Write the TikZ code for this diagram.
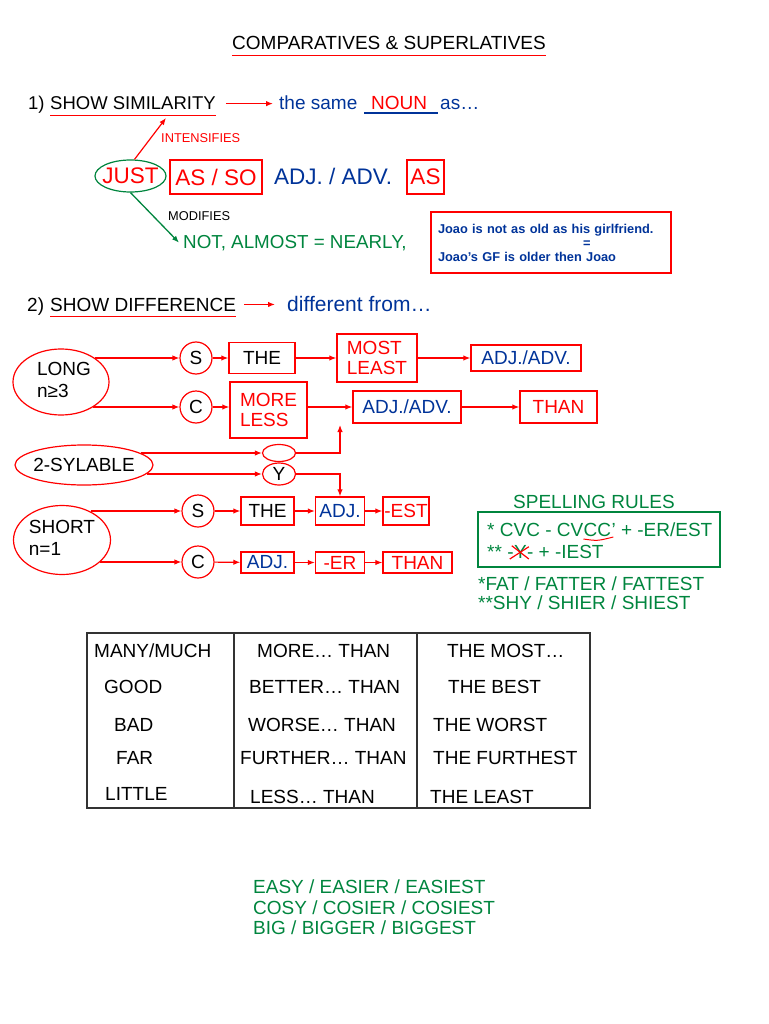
\documentclass[tikz,border=0pt]{standalone}
\usepackage{fontspec}
\setmainfont{Liberation Sans}
\usetikzlibrary{arrows.meta,positioning,calc,shapes.geometric}
\definecolor{wred}{RGB}{255,0,0}
\definecolor{wblue}{RGB}{0,51,153}
\definecolor{wgreen}{RGB}{0,133,62}
\newcommand{\fsz}[2]{\fontsize{#1}{#2}\selectfont}

\begin{document}
\begin{tikzpicture}[
    x=1pt, y=-1pt,
    font=\fsz{19}{20},
    lbl/.style={inner sep=0pt, anchor=base west},
    arr/.style={draw=wred, line width=1.2pt, -{Latex[length=7pt,width=5.5pt]}},
    garr/.style={draw=wgreen, line width=1.3pt, -{Latex[length=7pt,width=5.5pt]}},
    box/.style={draw=wred, line width=1.4pt, inner sep=0pt, align=left},
    circ/.style={circle, draw=wred, line width=1.2pt, minimum size=32pt, inner sep=0pt},
    oval/.style={ellipse, draw=wred, line width=1.2pt, inner sep=0pt},
  ]
  \useasboundingbox (0,0) rectangle (768,1024);

  % title
  \node[lbl, font=\fsz{19}{20}] (title) at (232,50) {COMPARATIVES \& SUPERLATIVES};
  \draw[wred, line width=1pt] ([yshift=-6pt]title.base west) -- ([yshift=-6pt]title.base east);

  % 1) similarity
  \node[lbl, font=\fsz{18.5}{20}] (one) at (28,110) {1)};
  \node[lbl, font=\fsz{18.5}{20}] (sim) at (50,110) {SHOW SIMILARITY};
  \draw[wred, line width=1pt] ([yshift=-6pt]sim.base west) -- ([yshift=-6pt]sim.base east);
  \node[lbl, text=wblue] (same) at (279,110) {the same};
  \node[lbl, text=wred] (noun) at (371,110) {NOUN};
  \node[lbl, text=wblue] (asdots) at (440,110) {as…};
  \draw[wblue, line width=1.2pt] ([xshift=-7pt,yshift=-3pt]noun.base west) -- ([xshift=11pt,yshift=-3pt]noun.base east);
  \draw[arr] ([xshift=10pt]sim.east) -- ($(same.west |- sim.east)+(-6,0)$);

  \node[ellipse, draw=wgreen, line width=1.2pt, inner sep=0pt, minimum width=71pt, minimum height=32pt,
        text=wred, font=\fsz{22.5}{24}] (just) at (130.5,176) {\makebox[0pt]{JUST}};
  \node[box, minimum width=92pt, minimum height=34pt, text=wred, font=\fsz{22.5}{24}] (asso) at (216,177) {AS / SO};
  \node[lbl, text=wblue, font=\fsz{22.5}{24}] (adjadv) at (274,185) {ADJ. / ADV.};
  \node[box, minimum width=37pt, minimum height=34pt, text=wred, font=\fsz{22.5}{24}] (as) at (425.5,177) {AS};

  \coordinate (inttip) at (166,118);
  \draw[arr] ([xshift=4pt]just.north) -- (inttip);
  \node[lbl, text=wred, font=\fsz{12.8}{14}] (intens) at (161,143) {INTENSIFIES};
  \node[lbl, font=\fsz{12.8}{14}] (modif) at (168,221) {MODIFIES};
  \node[lbl, text=wgreen, font=\fsz{18.8}{20}] (not) at (183,248) {NOT, ALMOST = NEARLY,};
  \draw[garr] (just.south) -- ([xshift=-4pt]not.west);

  \node[draw=wred, line width=1.5pt, minimum width=240pt, minimum height=61pt, inner xsep=7pt, inner ysep=0pt,
        text width=226pt, align=left, text=wblue, font=\bfseries\fsz{12.8}{14}] (joao) at (551,242.5)
        {Joao is not as old as his girlfriend.\\\hspace*{145pt}=\\Joao’s GF is older then Joao};

  % 2) difference
  \node[lbl, font=\fsz{19}{20}] (two) at (27,311) {2)};
  \node[lbl, font=\fsz{19}{20}] (diff) at (50,311) {SHOW DIFFERENCE};
  \draw[wred, line width=1pt] ([yshift=-5pt]diff.base west) -- ([yshift=-5pt]diff.base east);
  \node[lbl, text=wblue, font=\fsz{21}{22}] (from) at (287,311) {different from…};
  \draw[arr] ([xshift=8pt]diff.east) -- ($(from.west |- diff.east)+(-12,0)$);

  % long adjectives
  \node[oval, minimum width=96pt, minimum height=66pt] (long) at (61,382)
        {\makebox[0pt]{\fsz{19}{22}\hspace*{6pt}\begin{tabular}{@{}l@{}}LONG\\n≥3\end{tabular}}};
  \node[circ] (s1) at (196,358) {S};
  \node[circ] (c1) at (196,407) {C};
  \node[box, minimum width=66pt, minimum height=31pt] (the1) at (262,358) {THE};
  \node[box, minimum width=80pt, minimum height=48pt, text=wred] (most) at (377,358) {MOST\\LEAST};
  \node[box, minimum width=110pt, minimum height=26pt, text=wblue] (adja) at (526,358) {ADJ./ADV.};
  \node[box, minimum width=77pt, minimum height=56pt, text=wred] (more) at (268.5,410) {MORE\\LESS};
  \node[box, minimum width=108pt, minimum height=32pt, text=wblue] (adjb) at (407,407) {ADJ./ADV.};
  \node[box, minimum width=77pt, minimum height=32pt, text=wred] (than1) at (558.5,407) {THAN};

  \draw[arr] (long.36 |- s1) -- (s1);
  \draw[arr] (long.-39 |- c1) -- (c1);
  \draw[arr] (s1) -- (the1);
  \draw[arr] (the1) -- (most);
  \draw[arr] (most) -- (adja);
  \draw[arr] (c1) -- (c1 -| more.west);
  \draw[arr] (more.east |- adjb) -- (adjb);
  \draw[arr] (adjb) -- (than1);

  % two syllables
  \node[oval, minimum width=138pt, minimum height=40pt] (syl) at (84,465) {\makebox[0pt]{2-SYLABLE}};
  \node[oval, minimum width=33pt, minimum height=17pt] (ee) at (279,453) {};
  \node[oval, minimum width=33pt, minimum height=22pt] (yy) at (279,474) {\makebox[0pt]{Y}};
  \coordinate (uptip) at (340,425);
  \draw[arr] (syl.12 |- ee) -- (ee);
  \draw[arr] (syl.-8 |- yy) -- (yy);
  \draw[arr] (ee.east) -| (uptip);

  % short adjectives
  \node[oval, minimum width=97pt, minimum height=69pt] (short) at (62,540)
        {\makebox[0pt]{\fsz{19}{22}\begin{tabular}{@{}l@{}}SHORT\\n=1\end{tabular}}};
  \node[circ] (s2) at (198,511) {S};
  \node[circ] (c2) at (198,562) {C};
  \node[box, minimum width=53pt, minimum height=28pt] (the2) at (267.5,511) {THE};
  \node[box, minimum width=49pt, minimum height=28pt, text=wblue] (adjc) at (340,511) {ADJ.};
  \node[box, minimum width=46pt, minimum height=28pt, text=wred] (est) at (406,511) {-EST};
  \node[box, minimum width=53pt, minimum height=21pt, text=wblue] (adjd) at (267.5,562.5) {ADJ.};
  \node[box, minimum width=49pt, minimum height=21pt, text=wred] (er) at (340,562.5) {-ER};
  \node[box, minimum width=69pt, minimum height=21pt, text=wred] (than2) at (417.5,562.5) {THAN};

  \draw[arr] (yy.east) -| (adjc.north);
  \draw[arr] (short.45 |- s2) -- (s2);
  \draw[arr] (short.-30 |- c2) -- (c2);
  \draw[arr] (s2) -- (the2);
  \draw[arr] (the2) -- (adjc);
  \draw[arr] (adjc) -- (est);
  \draw[arr] (c2) -- (adjd);
  \draw[arr] (adjd) -- (er);
  \draw[arr] (er) -- (than2);

  % spelling rules
  \node[lbl, text=wgreen] (spell) at (513,508) {SPELLING RULES};
  \draw[wgreen, line width=1.3pt] (478,512) rectangle (720,567);
  \node[lbl, text=wgreen] (r1a) at (487,536) {* CVC - CV};
  \node[lbl, text=wgreen, anchor=base west] (r1b) at (r1a.base east) {CC};
  \node[lbl, text=wgreen, anchor=base west] (r1c) at (r1b.base east) {’ + -ER/EST};
  \draw[wred, line width=1pt] ([yshift=-3pt]r1b.base west) .. controls ([yshift=-5pt]r1b.base) .. ([xshift=2pt,yshift=-1pt]r1b.base east);
  \node[lbl, text=wgreen] (r2a) at (487,558) {** -};
  \node[lbl, text=wgreen, anchor=base west] (r2b) at (r2a.base east) {Y};
  \node[lbl, text=wgreen, anchor=base west] (r2c) at (r2b.base east) {- + -IEST};
  \draw[wred, line width=1.2pt] ([xshift=-4pt,yshift=-1pt]r2b.base west) -- ([xshift=2pt,yshift=-2pt]r2b.north east);
  \draw[wred, line width=1.2pt] ([xshift=-2pt,yshift=-1pt]r2b.north west) -- ([xshift=2pt,yshift=-1pt]r2b.base east);
  \node[lbl, text=wgreen] (fat) at (478,590) {*FAT / FATTER / FATTEST};
  \node[lbl, text=wgreen] (shy) at (478,609) {**SHY / SHIER / SHIEST};

  % irregular table
  \draw[line width=1.3pt, black!80] (87,633) rectangle (590,808);
  \draw[line width=1.3pt, black!80] (234,633) -- (234,808);
  \draw[line width=1.3pt, black!80] (417,633) -- (417,808);
  \node[lbl] (a1) at (94,657) {MANY/MUCH};
  \node[lbl] (b1) at (257,657) {MORE… THAN};
  \node[lbl] (c1t) at (447,657) {THE MOST…};
  \node[lbl] (a2) at (104,693) {GOOD};
  \node[lbl] (b2) at (249,693) {BETTER… THAN};
  \node[lbl] (c2t) at (448,693) {THE BEST};
  \node[lbl] (a3) at (114,731) {BAD};
  \node[lbl] (b3) at (248,731) {WORSE… THAN};
  \node[lbl] (c3t) at (433,731) {THE WORST};
  \node[lbl] (a4) at (116,764) {FAR};
  \node[lbl] (b4) at (240,764) {FURTHER… THAN};
  \node[lbl] (c4t) at (433,764) {THE FURTHEST};
  \node[lbl] (a5) at (105,800) {LITTLE};
  \node[lbl] (b5) at (250,803) {LESS… THAN};
  \node[lbl] (c5t) at (430,803) {THE LEAST};

  % examples
  \node[lbl, text=wgreen] (easy) at (253,893) {EASY / EASIER / EASIEST};
  \node[lbl, text=wgreen] (cosy) at (253,914) {COSY / COSIER / COSIEST};
  \node[lbl, text=wgreen] (big) at (253,934) {BIG / BIGGER / BIGGEST};
\end{tikzpicture}
\end{document}
